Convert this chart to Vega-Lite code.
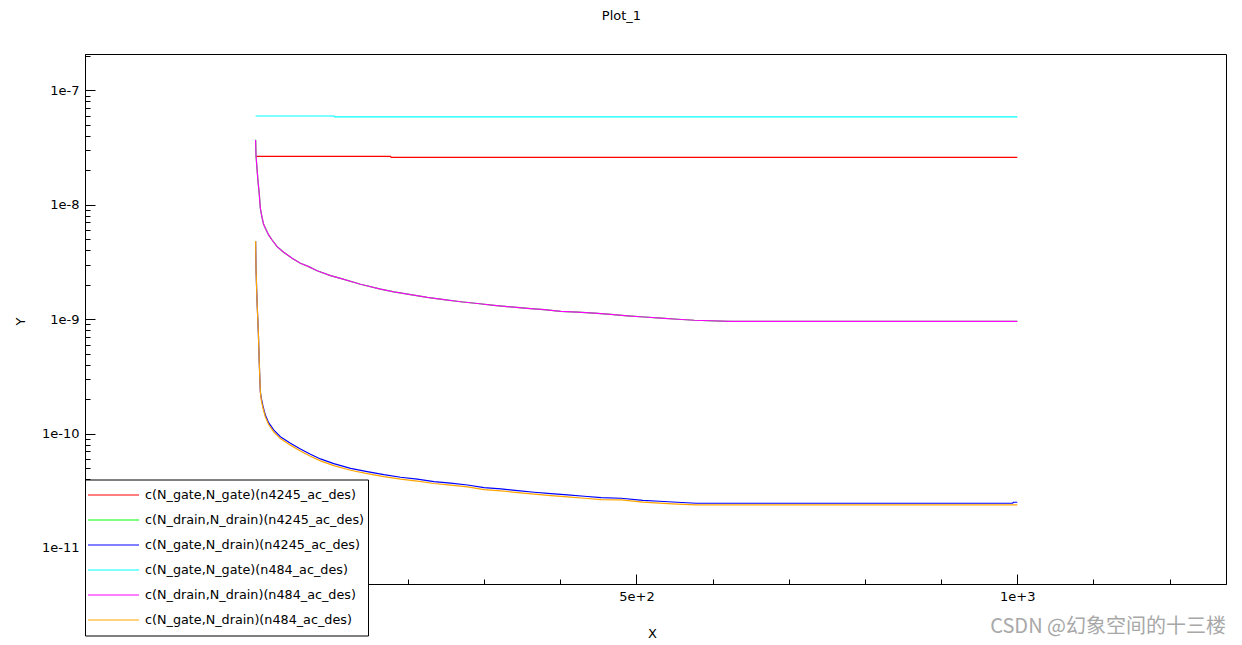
{
  "$schema": "https://vega.github.io/schema/vega-lite/v6.json",
  "width": 1141,
  "height": 530,
  "autosize": "none",
  "padding": {"left": 85, "top": 54, "right": 16, "bottom": 61},
  "background": "white",
  "title": {"text": "Plot_1", "fontSize": 13, "fontWeight": "normal", "font": "DejaVu Sans", "color": "black", "anchor": "middle", "dx": -34, "offset": 27},
  "config": {
    "font": "DejaVu Sans",
    "view": {"stroke": "black", "strokeWidth": 1},
    "axis": {"domainColor": "black", "tickColor": "black", "labelColor": "black", "titleColor": "black", "grid": false, "labelFontSize": 13, "titleFontSize": 13, "titleFontWeight": "normal", "labelFont": "DejaVu Sans", "titleFont": "DejaVu Sans", "labelOverlap": false, "labelFlush": false, "labelBound": false}
  },
  "layer": [
    {
      "data": {"values": [
        {"s": "c(N_gate,N_gate)(n4245_ac_des)", "x": 0, "y": 2.654e-8},
        {"s": "c(N_gate,N_gate)(n4245_ac_des)", "x": 177, "y": 2.654e-8},
        {"s": "c(N_gate,N_gate)(n4245_ac_des)", "x": 178, "y": 2.60e-8},
        {"s": "c(N_gate,N_gate)(n4245_ac_des)", "x": 1000, "y": 2.60e-8},

        {"s": "c(N_drain,N_drain)(n4245_ac_des)", "x": 0, "y": 3.70e-8},
        {"s": "c(N_drain,N_drain)(n4245_ac_des)", "x": 0.5, "y": 2.72e-8},
        {"s": "c(N_drain,N_drain)(n4245_ac_des)", "x": 1.8, "y": 2.08e-8},
        {"s": "c(N_drain,N_drain)(n4245_ac_des)", "x": 3.2, "y": 1.59e-8},
        {"s": "c(N_drain,N_drain)(n4245_ac_des)", "x": 4.9, "y": 1.22e-8},
        {"s": "c(N_drain,N_drain)(n4245_ac_des)", "x": 6.2, "y": 9.32e-9},
        {"s": "c(N_drain,N_drain)(n4245_ac_des)", "x": 8.4, "y": 7.77e-9},
        {"s": "c(N_drain,N_drain)(n4245_ac_des)", "x": 10.5, "y": 6.75e-9},
        {"s": "c(N_drain,N_drain)(n4245_ac_des)", "x": 12.8, "y": 6.23e-9},
        {"s": "c(N_drain,N_drain)(n4245_ac_des)", "x": 17.1, "y": 5.45e-9},
        {"s": "c(N_drain,N_drain)(n4245_ac_des)", "x": 21.6, "y": 4.92e-9},
        {"s": "c(N_drain,N_drain)(n4245_ac_des)", "x": 28.2, "y": 4.30e-9},
        {"s": "c(N_drain,N_drain)(n4245_ac_des)", "x": 36.8, "y": 3.85e-9},
        {"s": "c(N_drain,N_drain)(n4245_ac_des)", "x": 47.9, "y": 3.41e-9},
        {"s": "c(N_drain,N_drain)(n4245_ac_des)", "x": 58.8, "y": 3.08e-9},
        {"s": "c(N_drain,N_drain)(n4245_ac_des)", "x": 69.7, "y": 2.88e-9},
        {"s": "c(N_drain,N_drain)(n4245_ac_des)", "x": 80.8, "y": 2.65e-9},
        {"s": "c(N_drain,N_drain)(n4245_ac_des)", "x": 98.3, "y": 2.40e-9},
        {"s": "c(N_drain,N_drain)(n4245_ac_des)", "x": 113.7, "y": 2.25e-9},
        {"s": "c(N_drain,N_drain)(n4245_ac_des)", "x": 137.7, "y": 2.02e-9},
        {"s": "c(N_drain,N_drain)(n4245_ac_des)", "x": 164, "y": 1.83e-9},
        {"s": "c(N_drain,N_drain)(n4245_ac_des)", "x": 181.6, "y": 1.73e-9},
        {"s": "c(N_drain,N_drain)(n4245_ac_des)", "x": 203.5, "y": 1.64e-9},
        {"s": "c(N_drain,N_drain)(n4245_ac_des)", "x": 225.4, "y": 1.55e-9},
        {"s": "c(N_drain,N_drain)(n4245_ac_des)", "x": 247.3, "y": 1.48e-9},
        {"s": "c(N_drain,N_drain)(n4245_ac_des)", "x": 269.2, "y": 1.42e-9},
        {"s": "c(N_drain,N_drain)(n4245_ac_des)", "x": 291.2, "y": 1.37e-9},
        {"s": "c(N_drain,N_drain)(n4245_ac_des)", "x": 313, "y": 1.32e-9},
        {"s": "c(N_drain,N_drain)(n4245_ac_des)", "x": 335, "y": 1.28e-9},
        {"s": "c(N_drain,N_drain)(n4245_ac_des)", "x": 356.9, "y": 1.245e-9},
        {"s": "c(N_drain,N_drain)(n4245_ac_des)", "x": 378.8, "y": 1.21e-9},
        {"s": "c(N_drain,N_drain)(n4245_ac_des)", "x": 400.7, "y": 1.17e-9},
        {"s": "c(N_drain,N_drain)(n4245_ac_des)", "x": 422.5, "y": 1.15e-9},
        {"s": "c(N_drain,N_drain)(n4245_ac_des)", "x": 444.5, "y": 1.13e-9},
        {"s": "c(N_drain,N_drain)(n4245_ac_des)", "x": 466.4, "y": 1.10e-9},
        {"s": "c(N_drain,N_drain)(n4245_ac_des)", "x": 488.4, "y": 1.07e-9},
        {"s": "c(N_drain,N_drain)(n4245_ac_des)", "x": 510.2, "y": 1.045e-9},
        {"s": "c(N_drain,N_drain)(n4245_ac_des)", "x": 532.2, "y": 1.02e-9},
        {"s": "c(N_drain,N_drain)(n4245_ac_des)", "x": 554.2, "y": 9.98e-10},
        {"s": "c(N_drain,N_drain)(n4245_ac_des)", "x": 576, "y": 9.78e-10},
        {"s": "c(N_drain,N_drain)(n4245_ac_des)", "x": 620, "y": 9.58e-10},
        {"s": "c(N_drain,N_drain)(n4245_ac_des)", "x": 800, "y": 9.58e-10},
        {"s": "c(N_drain,N_drain)(n4245_ac_des)", "x": 1000, "y": 9.58e-10},

        {"s": "c(N_gate,N_drain)(n4245_ac_des)", "x": 0, "y": 4.83e-9},
        {"s": "c(N_gate,N_drain)(n4245_ac_des)", "x": 0.5, "y": 2.79e-9},
        {"s": "c(N_gate,N_drain)(n4245_ac_des)", "x": 1.8, "y": 1.47e-9},
        {"s": "c(N_gate,N_drain)(n4245_ac_des)", "x": 3.6, "y": 7.62e-10},
        {"s": "c(N_gate,N_drain)(n4245_ac_des)", "x": 4.9, "y": 3.98e-10},
        {"s": "c(N_gate,N_drain)(n4245_ac_des)", "x": 6.2, "y": 2.32e-10},
        {"s": "c(N_gate,N_drain)(n4245_ac_des)", "x": 7.5, "y": 2.03e-10},
        {"s": "c(N_gate,N_drain)(n4245_ac_des)", "x": 9.8, "y": 1.72e-10},
        {"s": "c(N_gate,N_drain)(n4245_ac_des)", "x": 12.8, "y": 1.45e-10},
        {"s": "c(N_gate,N_drain)(n4245_ac_des)", "x": 17.1, "y": 1.245e-10},
        {"s": "c(N_gate,N_drain)(n4245_ac_des)", "x": 23.7, "y": 1.075e-10},
        {"s": "c(N_gate,N_drain)(n4245_ac_des)", "x": 32.5, "y": 9.39e-11},
        {"s": "c(N_gate,N_drain)(n4245_ac_des)", "x": 45.7, "y": 8.23e-11},
        {"s": "c(N_gate,N_drain)(n4245_ac_des)", "x": 58.8, "y": 7.33e-11},
        {"s": "c(N_gate,N_drain)(n4245_ac_des)", "x": 72, "y": 6.59e-11},
        {"s": "c(N_gate,N_drain)(n4245_ac_des)", "x": 85.1, "y": 6.00e-11},
        {"s": "c(N_gate,N_drain)(n4245_ac_des)", "x": 102.6, "y": 5.46e-11},
        {"s": "c(N_gate,N_drain)(n4245_ac_des)", "x": 124.6, "y": 4.97e-11},
        {"s": "c(N_gate,N_drain)(n4245_ac_des)", "x": 146.5, "y": 4.65e-11},
        {"s": "c(N_gate,N_drain)(n4245_ac_des)", "x": 168.4, "y": 4.37e-11},
        {"s": "c(N_gate,N_drain)(n4245_ac_des)", "x": 190.3, "y": 4.15e-11},
        {"s": "c(N_gate,N_drain)(n4245_ac_des)", "x": 212.3, "y": 3.99e-11},
        {"s": "c(N_gate,N_drain)(n4245_ac_des)", "x": 234.1, "y": 3.80e-11},
        {"s": "c(N_gate,N_drain)(n4245_ac_des)", "x": 256.1, "y": 3.68e-11},
        {"s": "c(N_gate,N_drain)(n4245_ac_des)", "x": 278.1, "y": 3.55e-11},
        {"s": "c(N_gate,N_drain)(n4245_ac_des)", "x": 299.9, "y": 3.37e-11},
        {"s": "c(N_gate,N_drain)(n4245_ac_des)", "x": 321.9, "y": 3.28e-11},
        {"s": "c(N_gate,N_drain)(n4245_ac_des)", "x": 343.9, "y": 3.17e-11},
        {"s": "c(N_gate,N_drain)(n4245_ac_des)", "x": 365.7, "y": 3.07e-11},
        {"s": "c(N_gate,N_drain)(n4245_ac_des)", "x": 387.7, "y": 2.98e-11},
        {"s": "c(N_gate,N_drain)(n4245_ac_des)", "x": 409.6, "y": 2.91e-11},
        {"s": "c(N_gate,N_drain)(n4245_ac_des)", "x": 431.5, "y": 2.83e-11},
        {"s": "c(N_gate,N_drain)(n4245_ac_des)", "x": 453.5, "y": 2.75e-11},
        {"s": "c(N_gate,N_drain)(n4245_ac_des)", "x": 479.8, "y": 2.72e-11},
        {"s": "c(N_gate,N_drain)(n4245_ac_des)", "x": 508.3, "y": 2.61e-11},
        {"s": "c(N_gate,N_drain)(n4245_ac_des)", "x": 530.2, "y": 2.56e-11},
        {"s": "c(N_gate,N_drain)(n4245_ac_des)", "x": 553.4, "y": 2.51e-11},
        {"s": "c(N_gate,N_drain)(n4245_ac_des)", "x": 578.4, "y": 2.46e-11},
        {"s": "c(N_gate,N_drain)(n4245_ac_des)", "x": 993.8, "y": 2.46e-11},
        {"s": "c(N_gate,N_drain)(n4245_ac_des)", "x": 995, "y": 2.51e-11},
        {"s": "c(N_gate,N_drain)(n4245_ac_des)", "x": 1000, "y": 2.51e-11},

        {"s": "c(N_gate,N_gate)(n484_ac_des)", "x": 0, "y": 5.97e-8},
        {"s": "c(N_gate,N_gate)(n484_ac_des)", "x": 103, "y": 5.97e-8},
        {"s": "c(N_gate,N_gate)(n484_ac_des)", "x": 104, "y": 5.86e-8},
        {"s": "c(N_gate,N_gate)(n484_ac_des)", "x": 1000, "y": 5.86e-8},

        {"s": "c(N_drain,N_drain)(n484_ac_des)", "x": 0, "y": 3.68e-8},
        {"s": "c(N_drain,N_drain)(n484_ac_des)", "x": 0.5, "y": 2.72e-8},
        {"s": "c(N_drain,N_drain)(n484_ac_des)", "x": 1.8, "y": 2.08e-8},
        {"s": "c(N_drain,N_drain)(n484_ac_des)", "x": 3.2, "y": 1.59e-8},
        {"s": "c(N_drain,N_drain)(n484_ac_des)", "x": 4.9, "y": 1.22e-8},
        {"s": "c(N_drain,N_drain)(n484_ac_des)", "x": 6.2, "y": 9.32e-9},
        {"s": "c(N_drain,N_drain)(n484_ac_des)", "x": 8.4, "y": 7.77e-9},
        {"s": "c(N_drain,N_drain)(n484_ac_des)", "x": 10.5, "y": 6.75e-9},
        {"s": "c(N_drain,N_drain)(n484_ac_des)", "x": 12.8, "y": 6.23e-9},
        {"s": "c(N_drain,N_drain)(n484_ac_des)", "x": 17.1, "y": 5.45e-9},
        {"s": "c(N_drain,N_drain)(n484_ac_des)", "x": 21.6, "y": 4.92e-9},
        {"s": "c(N_drain,N_drain)(n484_ac_des)", "x": 28.2, "y": 4.30e-9},
        {"s": "c(N_drain,N_drain)(n484_ac_des)", "x": 36.8, "y": 3.85e-9},
        {"s": "c(N_drain,N_drain)(n484_ac_des)", "x": 47.9, "y": 3.41e-9},
        {"s": "c(N_drain,N_drain)(n484_ac_des)", "x": 58.8, "y": 3.08e-9},
        {"s": "c(N_drain,N_drain)(n484_ac_des)", "x": 69.7, "y": 2.88e-9},
        {"s": "c(N_drain,N_drain)(n484_ac_des)", "x": 80.8, "y": 2.65e-9},
        {"s": "c(N_drain,N_drain)(n484_ac_des)", "x": 98.3, "y": 2.40e-9},
        {"s": "c(N_drain,N_drain)(n484_ac_des)", "x": 113.7, "y": 2.25e-9},
        {"s": "c(N_drain,N_drain)(n484_ac_des)", "x": 137.7, "y": 2.02e-9},
        {"s": "c(N_drain,N_drain)(n484_ac_des)", "x": 164, "y": 1.83e-9},
        {"s": "c(N_drain,N_drain)(n484_ac_des)", "x": 181.6, "y": 1.73e-9},
        {"s": "c(N_drain,N_drain)(n484_ac_des)", "x": 203.5, "y": 1.64e-9},
        {"s": "c(N_drain,N_drain)(n484_ac_des)", "x": 225.4, "y": 1.55e-9},
        {"s": "c(N_drain,N_drain)(n484_ac_des)", "x": 247.3, "y": 1.48e-9},
        {"s": "c(N_drain,N_drain)(n484_ac_des)", "x": 269.2, "y": 1.42e-9},
        {"s": "c(N_drain,N_drain)(n484_ac_des)", "x": 291.2, "y": 1.37e-9},
        {"s": "c(N_drain,N_drain)(n484_ac_des)", "x": 313, "y": 1.32e-9},
        {"s": "c(N_drain,N_drain)(n484_ac_des)", "x": 335, "y": 1.28e-9},
        {"s": "c(N_drain,N_drain)(n484_ac_des)", "x": 356.9, "y": 1.245e-9},
        {"s": "c(N_drain,N_drain)(n484_ac_des)", "x": 378.8, "y": 1.21e-9},
        {"s": "c(N_drain,N_drain)(n484_ac_des)", "x": 400.7, "y": 1.17e-9},
        {"s": "c(N_drain,N_drain)(n484_ac_des)", "x": 422.5, "y": 1.15e-9},
        {"s": "c(N_drain,N_drain)(n484_ac_des)", "x": 444.5, "y": 1.13e-9},
        {"s": "c(N_drain,N_drain)(n484_ac_des)", "x": 466.4, "y": 1.10e-9},
        {"s": "c(N_drain,N_drain)(n484_ac_des)", "x": 488.4, "y": 1.07e-9},
        {"s": "c(N_drain,N_drain)(n484_ac_des)", "x": 510.2, "y": 1.045e-9},
        {"s": "c(N_drain,N_drain)(n484_ac_des)", "x": 532.2, "y": 1.02e-9},
        {"s": "c(N_drain,N_drain)(n484_ac_des)", "x": 554.2, "y": 9.98e-10},
        {"s": "c(N_drain,N_drain)(n484_ac_des)", "x": 576, "y": 9.78e-10},
        {"s": "c(N_drain,N_drain)(n484_ac_des)", "x": 624.3, "y": 9.58e-10},
        {"s": "c(N_drain,N_drain)(n484_ac_des)", "x": 800, "y": 9.58e-10},
        {"s": "c(N_drain,N_drain)(n484_ac_des)", "x": 1000, "y": 9.58e-10},

        {"s": "c(N_gate,N_drain)(n484_ac_des)", "x": 0, "y": 4.83e-9},
        {"s": "c(N_gate,N_drain)(n484_ac_des)", "x": 0.5, "y": 2.79e-9},
        {"s": "c(N_gate,N_drain)(n484_ac_des)", "x": 1.8, "y": 1.47e-9},
        {"s": "c(N_gate,N_drain)(n484_ac_des)", "x": 3.6, "y": 7.62e-10},
        {"s": "c(N_gate,N_drain)(n484_ac_des)", "x": 4.9, "y": 3.98e-10},
        {"s": "c(N_gate,N_drain)(n484_ac_des)", "x": 6.2, "y": 2.32e-10},
        {"s": "c(N_gate,N_drain)(n484_ac_des)", "x": 7.5, "y": 1.95e-10},
        {"s": "c(N_gate,N_drain)(n484_ac_des)", "x": 9.8, "y": 1.655e-10},
        {"s": "c(N_gate,N_drain)(n484_ac_des)", "x": 12.8, "y": 1.395e-10},
        {"s": "c(N_gate,N_drain)(n484_ac_des)", "x": 17.1, "y": 1.198e-10},
        {"s": "c(N_gate,N_drain)(n484_ac_des)", "x": 23.7, "y": 1.034e-10},
        {"s": "c(N_gate,N_drain)(n484_ac_des)", "x": 32.5, "y": 9.03e-11},
        {"s": "c(N_gate,N_drain)(n484_ac_des)", "x": 45.7, "y": 7.92e-11},
        {"s": "c(N_gate,N_drain)(n484_ac_des)", "x": 58.8, "y": 7.05e-11},
        {"s": "c(N_gate,N_drain)(n484_ac_des)", "x": 72, "y": 6.34e-11},
        {"s": "c(N_gate,N_drain)(n484_ac_des)", "x": 85.1, "y": 5.77e-11},
        {"s": "c(N_gate,N_drain)(n484_ac_des)", "x": 102.6, "y": 5.25e-11},
        {"s": "c(N_gate,N_drain)(n484_ac_des)", "x": 124.6, "y": 4.78e-11},
        {"s": "c(N_gate,N_drain)(n484_ac_des)", "x": 146.5, "y": 4.47e-11},
        {"s": "c(N_gate,N_drain)(n484_ac_des)", "x": 168.4, "y": 4.20e-11},
        {"s": "c(N_gate,N_drain)(n484_ac_des)", "x": 190.3, "y": 3.99e-11},
        {"s": "c(N_gate,N_drain)(n484_ac_des)", "x": 212.3, "y": 3.84e-11},
        {"s": "c(N_gate,N_drain)(n484_ac_des)", "x": 234.1, "y": 3.66e-11},
        {"s": "c(N_gate,N_drain)(n484_ac_des)", "x": 256.1, "y": 3.54e-11},
        {"s": "c(N_gate,N_drain)(n484_ac_des)", "x": 278.1, "y": 3.42e-11},
        {"s": "c(N_gate,N_drain)(n484_ac_des)", "x": 299.9, "y": 3.24e-11},
        {"s": "c(N_gate,N_drain)(n484_ac_des)", "x": 321.9, "y": 3.16e-11},
        {"s": "c(N_gate,N_drain)(n484_ac_des)", "x": 343.9, "y": 3.05e-11},
        {"s": "c(N_gate,N_drain)(n484_ac_des)", "x": 365.7, "y": 2.95e-11},
        {"s": "c(N_gate,N_drain)(n484_ac_des)", "x": 387.7, "y": 2.87e-11},
        {"s": "c(N_gate,N_drain)(n484_ac_des)", "x": 409.6, "y": 2.80e-11},
        {"s": "c(N_gate,N_drain)(n484_ac_des)", "x": 431.5, "y": 2.72e-11},
        {"s": "c(N_gate,N_drain)(n484_ac_des)", "x": 453.5, "y": 2.65e-11},
        {"s": "c(N_gate,N_drain)(n484_ac_des)", "x": 479.8, "y": 2.63e-11},
        {"s": "c(N_gate,N_drain)(n484_ac_des)", "x": 508.3, "y": 2.52e-11},
        {"s": "c(N_gate,N_drain)(n484_ac_des)", "x": 530.2, "y": 2.47e-11},
        {"s": "c(N_gate,N_drain)(n484_ac_des)", "x": 553.4, "y": 2.42e-11},
        {"s": "c(N_gate,N_drain)(n484_ac_des)", "x": 578.4, "y": 2.38e-11},
        {"s": "c(N_gate,N_drain)(n484_ac_des)", "x": 1000, "y": 2.38e-11}
      ]},
      "mark": {"type": "line", "strokeWidth": 1.2, "clip": true},
      "encoding": {
        "x": {
          "field": "x", "type": "quantitative",
          "scale": {"domain": [-224, 1274], "nice": false, "zero": false},
          "axis": {
            "title": "X",
            "values": [-200, -150, -100, -50, 0, 50, 100, 150, 200, 250, 300, 350, 400, 450, 500, 550, 600, 650, 700, 750, 800, 850, 900, 950, 1000, 1050, 1100, 1150, 1200, 1250],
            "tickSize": {"condition": {"test": "datum.value == 500 || datum.value == 1000", "value": -10}, "value": -5},
            "labelExpr": "datum.value == 500 || datum.value == 1000 ? format(datum.value, '.0e') : ''",
            "labelPadding": 16,
            "titleX": 567, "titleY": 49, "titleBaseline": "middle"
          }
        },
        "y": {
          "field": "y", "type": "quantitative",
          "scale": {"type": "log", "domain": [4.84e-12, 2.08e-7], "nice": false},
          "axis": {
            "title": "Y",
            "values": [5e-12, 6e-12, 7e-12, 8e-12, 9e-12, 1e-11, 2e-11, 3e-11, 4e-11, 5e-11, 6e-11, 7e-11, 8e-11, 9e-11, 1e-10, 2e-10, 3e-10, 4e-10, 5e-10, 6e-10, 7e-10, 8e-10, 9e-10, 1e-9, 2e-9, 3e-9, 4e-9, 5e-9, 6e-9, 7e-9, 8e-9, 9e-9, 1e-8, 2e-8, 3e-8, 4e-8, 5e-8, 6e-8, 7e-8, 8e-8, 9e-8, 1e-7, 2e-7],
            "tickSize": {"condition": {"test": "abs(log(datum.value)/LN10 - round(log(datum.value)/LN10)) < 0.001", "value": -10}, "value": -5},
            "labelExpr": "abs(log(datum.value)/LN10 - round(log(datum.value)/LN10)) < 0.001 ? format(datum.value, '.0e') : ''",
            "labelPadding": 16,
            "titleX": -65, "titleY": 267, "titleBaseline": "middle", "titleAlign": "center"
          }
        },
        "color": {
          "field": "s", "type": "nominal",
          "scale": {
            "domain": ["c(N_gate,N_gate)(n4245_ac_des)", "c(N_drain,N_drain)(n4245_ac_des)", "c(N_gate,N_drain)(n4245_ac_des)", "c(N_gate,N_gate)(n484_ac_des)", "c(N_drain,N_drain)(n484_ac_des)", "c(N_gate,N_drain)(n484_ac_des)"],
            "range": ["#ff0000", "#00ff00", "#0000ff", "#00ffff", "#ff00ff", "#ffa500"]
          },
          "legend": {
            "title": null, "orient": "none", "legendX": 0, "legendY": 425.5,
            "strokeColor": "black", "fillColor": "white", "padding": 3, "rowPadding": 0,
            "symbolType": "M-2.144,0H2.144M0,0.8", "symbolSize": 566, "symbolStrokeWidth": 1.2, "symbolOffset": 13,
            "labelOffset": 19, "labelFontSize": 12.75, "labelFont": "DejaVu Sans", "labelColor": "black", "labelLimit": 0
          }
        }
      }
    },
    {
      "data": {"values": [{"t": "CSDN @幻象空间的十三楼"}]},
      "mark": {"type": "text", "align": "right", "baseline": "middle", "fontSize": 20, "font": "Noto Sans CJK SC", "color": "#a8a8a8", "clip": false},
      "encoding": {
        "x": {"datum": 1274, "type": "quantitative"},
        "y": {"datum": 2.04e-12, "type": "quantitative"},
        "text": {"field": "t"}
      }
    }
  ]
}
